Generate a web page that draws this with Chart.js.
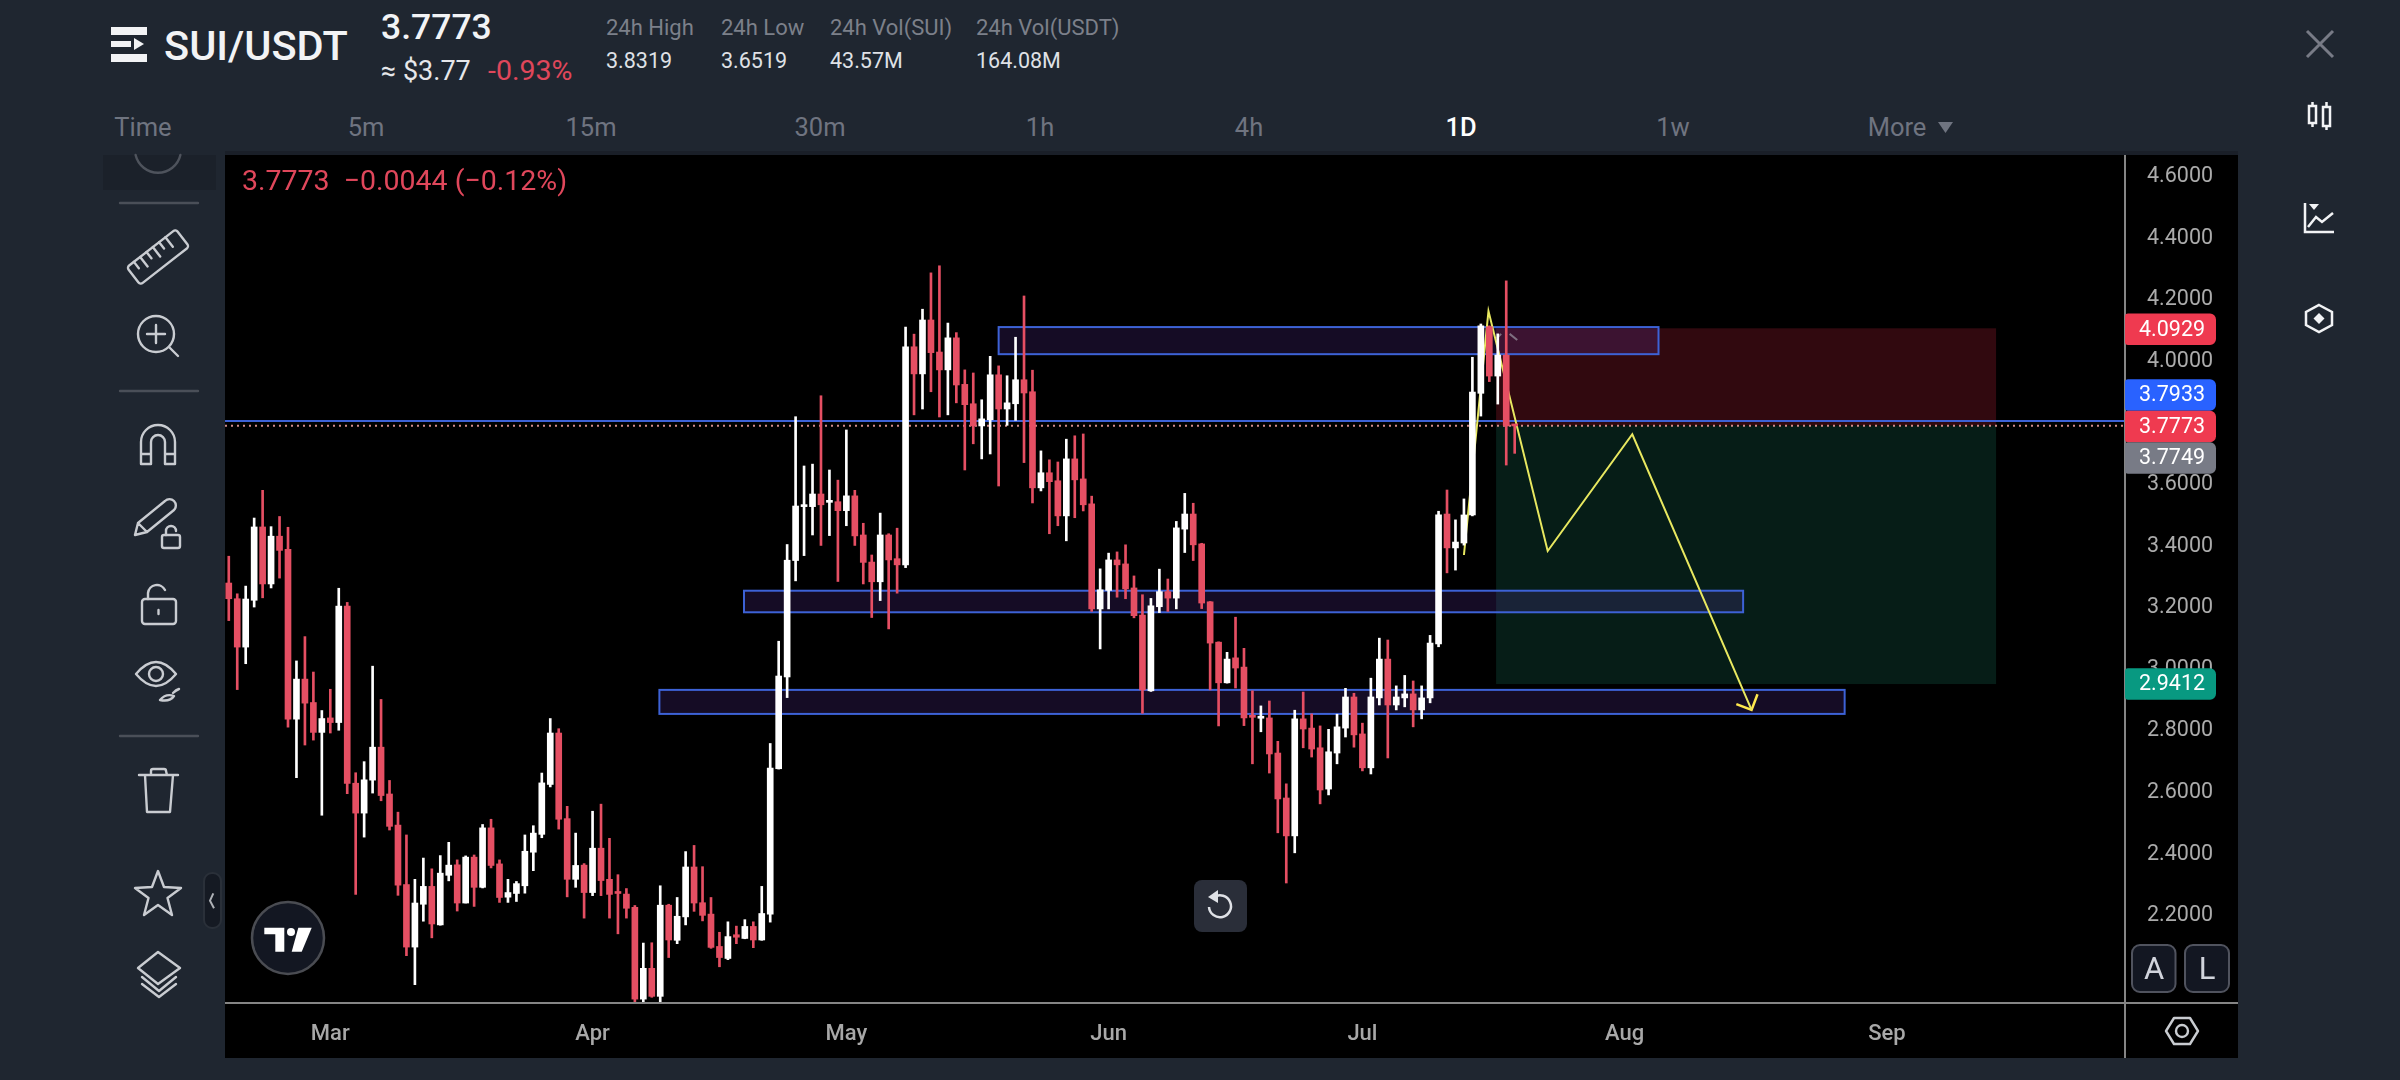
<!DOCTYPE html>
<html>
<head>
<meta charset="UTF-8">
<title>SUI/USDT</title>
<script src="https://cdn.jsdelivr.net/npm/chart.js"></script>
<style>
    html, body { margin: 0; width: 2400px; height: 1080px; background: #1f2630; overflow: hidden; font-family: Roboto, sans-serif; }
    .t { position: absolute; white-space: nowrap; line-height: 1; }
    .head { font-size: 22px; color: #7c808a; top: 17px; }
    .val { font-size: 21.5px; color: #dfe1e6; top: 50px; }
    .tab { font-size: 25.5px; color: #6f7480; top: 115px; transform: translateX(-50%); }
    #wrap { position: absolute; left: 225px; top: 155px; width: 2013px; height: 903px; background: #000; }
    #band { position: absolute; left: 225px; top: 151px; width: 2013px; height: 4px; background: #1a1f28; }
    svg { position: absolute; left: 0; top: 0; }
    .ic { fill: none; stroke: #c9ccd1; stroke-width: 2.4; stroke-linejoin: round; stroke-linecap: round; }
</style>
</head>
<body>
<!-- barra superior -->
<div class="t" style="left:164px;top:25px;font-size:41.500px;font-weight:500;color:#f2f3f5">SUI/USDT</div>
<div class="t" style="left:381px;top:10px;font-size:35.500px;font-weight:500;color:#f2f3f5">3.7773</div>
<div class="t" style="left:381px;top:58px;font-size:27px;color:#e6e7ea">≈ $3.77</div>
<div class="t" style="left:488px;top:57px;font-size:28.500px;color:#e0475b">-0.93%</div>
<div class="t head" style="left:606px">24h High</div>
<div class="t head" style="left:721px">24h Low</div>
<div class="t head" style="left:830px">24h Vol(SUI)</div>
<div class="t head" style="left:976px">24h Vol(USDT)</div>
<div class="t val" style="left:606px">3.8319</div>
<div class="t val" style="left:721px">3.6519</div>
<div class="t val" style="left:830px">43.57M</div>
<div class="t val" style="left:976px">164.08M</div>

<div class="t tab" style="left:143px">Time</div>
<div class="t tab" style="left:366px">5m</div>
<div class="t tab" style="left:591px">15m</div>
<div class="t tab" style="left:820px">30m</div>
<div class="t tab" style="left:1040px">1h</div>
<div class="t tab" style="left:1249px">4h</div>
<div class="t tab" style="left:1461px;color:#fff;font-weight:500">1D</div>
<div class="t tab" style="left:1673px">1w</div>
<div class="t tab" style="left:1897px">More</div>

<div id="band"></div>
<div id="wrap"><canvas id="priceChart" width="2013" height="903"></canvas></div>

<div class="t" style="left:242px;top:167px;font-size:28.500px;color:#e0475b">3.7773&nbsp; −0.0044 (−0.12%)</div>

<svg width="2400" height="1080">
    <!-- menu -->
    <rect x="111" y="27" width="36" height="8" fill="#f2f3f5"/>
    <rect x="111" y="41" width="20" height="6" fill="#f2f3f5"/>
    <path d="M134 38l10 6-10 6z" fill="#f2f3f5"/>
    <rect x="111" y="54" width="36" height="8" fill="#f2f3f5"/>
    <path d="M1938 122h15l-7.500 11z" fill="#6f7480"/>

    <!-- herramientas -->
    <rect x="103" y="155" width="113" height="35" fill="#1b212a"/>
    <path class="ic" d="M135.600 155a23 23 0 0 0 44.800 0" style="stroke:#4e535c"/>
    <path class="ic" d="M120 203h78M120 391h78M120 736h78" style="stroke:#4a4f58"/>
    <g class="ic" transform="translate(158 257) rotate(-38)">
        <rect x="-31" y="-11" width="62" height="22" rx="3"/>
        <path d="M-22 -11v8M-14 -11v12M-6 -11v8M2 -11v12M10 -11v8M18 -11v12"/>
    </g>
    <g class="ic">
        <circle cx="156" cy="334" r="18"/>
        <path d="M147 334h18M156 325v18M169 347l9 9"/>
    </g>
    <path class="ic" d="M141 464V442a17 17 0 0 1 34 0V464H165V442a7 7 0 0 0 -14 0V464ZM141 454h10M165 454h10"/>
    <g class="ic">
        <path d="M135 535l3-12 27-22a6 6 0 0 1 9 9l-27 22zM135 535l12-3M138 523l9 9"/>
        <rect x="162" y="535" width="18" height="13" rx="2"/>
        <path d="M166 535v-4a5 5 0 0 1 10 0"/>
    </g>
    <g class="ic">
        <rect x="142" y="599" width="34" height="25" rx="3"/>
        <path d="M148 599v-6a9 9 0 0 1 17-3"/>
        <path d="M158.500 610v4"/>
    </g>
    <g class="ic">
        <path d="M136 674q20-24 40 0q-20 24-40 0z"/>
        <circle cx="156" cy="674" r="7"/>
        <path d="M160 700q6-7 14-4q-4 6-14 4zM173 693q3-3 6-4"/>
    </g>
    <path class="ic" d="M139 775h39M145 775l2 37h23l3-37M151 775v-4q0-2 2-2h11q2 0 2 2l1 4"/>
    <path class="ic" d="M158 871L164 887 181 888 167.500 898 172 915 158 905 144 915 148.500 898 135 888 152 887Z"/>
    <path class="ic" d="M158 952L180 968 158 984 138 968ZM142 977l17 14 17-14M142 984l17 13 17-13"/>
    <rect x="204" y="873" width="17" height="55" rx="8" fill="#151a23" stroke="#2a3039" stroke-width="2"/>
    <path d="M213.300 893.300L210 900.700 214 908.300" fill="none" stroke="#aeb1b6" stroke-width="2"/>

    <!-- logo -->
    <circle cx="288" cy="938" r="36" fill="#131722" stroke="#4a4c52" stroke-width="2.500"/>
    <path d="M264.300 927.700h20v24h-9v-17.400h-11z" fill="#fff"/>
    <circle cx="291" cy="932" r="4" fill="#fff"/>
    <path d="M298.300 927.700h13.400l-10 24h-10z" fill="#fff"/>

    <!-- volver -->
    <rect x="1194" y="880" width="53" height="52" rx="8" fill="#2a2e39"/>
    <path d="M1214 897a11 11 0 1 1 -5 10" fill="none" stroke="#dfe1e6" stroke-width="2.500"/>
    <path d="M1218 890v13l-10-6z" fill="#dfe1e6"/>

    <!-- A L -->
    <rect x="2132" y="945" width="43.500" height="47" rx="8" fill="#131722" stroke="#50535e" stroke-width="2"/>
    <rect x="2185" y="945" width="44" height="47" rx="8" fill="#131722" stroke="#50535e" stroke-width="2"/>
    <text x="2154" y="979" text-anchor="middle" font-size="31" fill="#d1d4dc">A</text>
    <text x="2207" y="979" text-anchor="middle" font-size="31" fill="#d1d4dc">L</text>
    <path class="ic" d="M2166 1031l8-13h16l8 13-8 13h-16z"/>
    <circle class="ic" cx="2182" cy="1031" r="6"/>

    <!-- derecha -->
    <path d="M2307 31l26 26M2333 31l-26 26" stroke="#787b86" stroke-width="3" fill="none"/>
    <g fill="none" stroke="#f2f3f5" stroke-width="2.500">
        <rect x="2309" y="106" width="7" height="17"/>
        <path d="M2312.500 102v4M2312.500 123v4"/>
        <rect x="2323" y="107" width="7" height="19"/>
        <path d="M2326.500 102v5M2326.500 126v4"/>
        <path d="M2305 203v29h29M2308 227l8-10 6 5 11-9"/>
        <path d="M2319 305l13 7v13l-13 7-13-7v-13z"/>
    </g>
    <path d="M2309 204h10l-5 6z" fill="#f2f3f5"/>
    <path d="M2319 313l5.500 5.500-5.500 5.500-5.500-5.500z" fill="#f2f3f5"/>
</svg>

<script>
    // velas diarias, la primera es el 17 feb. dias contados desde el 1 mar
    const firstDay = -12;
    const opens = [3.272,3.221,3.064,3.216,3.454,3.269,3.424,3.381,2.830,2.960,
        2.884,2.787,2.834,2.819,3.197,2.622,2.525,2.632,2.739,2.587,
        2.486,2.293,2.090,2.229,2.287,2.162,2.323,2.357,2.233,2.382,
        2.284,2.477,2.360,2.252,2.264,2.289,2.398,2.456,2.618,2.785,
        2.507,2.310,2.356,2.267,2.411,2.310,2.267,2.262,2.219,1.921,
        2.021,1.930,2.226,2.112,2.188,2.350,2.234,2.197,2.092,2.053,
        2.130,2.118,2.157,2.113,2.197,2.669,2.967,3.345,3.520,3.520,
        3.561,3.534,3.536,3.507,3.555,3.428,3.340,3.276,3.428,3.351,
        3.331,4.039,3.951,4.126,4.022,3.964,4.068,3.917,3.854,3.782,
        3.802,3.948,3.837,3.854,3.932,3.893,3.581,3.630,3.604,3.490,
        3.675,3.610,3.529,3.188,3.248,3.347,3.334,3.256,3.168,2.922,
        3.195,3.244,3.223,3.447,3.496,3.399,3.211,3.080,2.948,3.029,
        2.999,2.840,2.833,2.834,2.720,2.574,2.451,2.831,2.801,2.737,
        2.603,2.720,2.801,2.902,2.782,2.672,2.899,3.025,2.876,2.899,
        2.912,2.860,2.899,3.074,3.496,3.386,3.402,3.493,3.888,4.104,
        3.944,4.012,3.785];
    const highs = [3.359,3.237,3.262,3.483,3.573,3.455,3.488,3.453,3.019,3.098,
        2.983,2.858,2.927,3.255,3.209,2.656,2.692,3.002,2.894,2.631,
        2.528,2.454,2.310,2.379,2.344,2.387,2.430,2.373,2.386,2.389,
        2.488,2.505,2.373,2.310,2.303,2.454,2.484,2.655,2.832,2.799,
        2.547,2.460,2.361,2.531,2.554,2.443,2.325,2.280,2.225,2.103,
        2.104,2.289,2.229,2.251,2.400,2.420,2.351,2.251,2.138,2.172,
        2.158,2.179,2.172,2.287,2.751,3.083,3.397,3.812,3.652,3.658,
        3.880,3.639,3.606,3.769,3.573,3.466,3.363,3.499,3.432,3.450,
        4.103,4.080,4.161,4.279,4.302,4.116,4.085,3.964,3.954,3.867,
        4.008,3.977,3.945,4.070,4.204,3.963,3.701,3.672,3.665,3.739,
        3.750,3.756,3.554,3.318,3.369,3.373,3.396,3.295,3.234,3.222,
        3.317,3.285,3.472,3.563,3.531,3.401,3.212,3.081,3.047,3.161,
        3.060,2.922,2.873,2.889,2.758,2.620,2.859,2.918,2.847,2.808,
        2.797,2.846,2.930,2.914,2.817,2.963,3.093,3.087,2.938,2.972,
        2.954,2.938,3.102,3.505,3.574,3.477,3.545,4.005,4.113,4.107,
        4.081,4.253,3.786];
    const lows = [3.150,2.926,3.010,3.194,3.224,3.256,3.288,2.804,2.640,2.746,
        2.762,2.518,2.785,2.794,2.588,2.261,2.447,2.590,2.565,2.470,
        2.258,2.062,1.968,2.174,2.120,2.161,2.305,2.207,2.233,2.222,
        2.282,2.347,2.235,2.235,2.238,2.265,2.338,2.445,2.610,2.473,
        2.253,2.284,2.184,2.257,2.257,2.184,2.133,2.184,1.912,1.912,
        1.927,1.912,2.056,2.101,2.162,2.206,2.175,2.086,2.026,2.049,
        2.101,2.117,2.088,2.112,2.171,2.668,2.900,3.279,3.361,3.428,
        3.394,3.426,3.277,3.458,3.394,3.269,3.160,3.215,3.123,3.239,
        3.322,3.818,3.837,3.893,3.811,3.818,3.857,3.639,3.724,3.675,
        3.691,3.587,3.784,3.800,3.663,3.532,3.571,3.432,3.458,3.409,
        3.484,3.506,3.180,3.058,3.188,3.226,3.221,3.159,2.849,2.920,
        3.176,3.180,3.188,3.371,3.345,3.189,2.925,2.808,2.947,2.931,
        2.809,2.685,2.789,2.655,2.461,2.298,2.396,2.737,2.707,2.555,
        2.584,2.685,2.772,2.739,2.662,2.652,2.876,2.704,2.860,2.870,
        2.805,2.831,2.883,3.065,3.305,3.314,3.395,3.490,3.814,3.926,
        3.853,3.655,3.693];
    const closes = [3.221,3.064,3.220,3.454,3.269,3.424,3.378,2.830,2.960,2.882,
        2.787,2.832,2.819,3.197,2.621,2.525,2.633,2.739,2.582,2.482,
        2.291,2.090,2.233,2.287,2.165,2.330,2.356,2.233,2.382,2.284,
        2.477,2.355,2.251,2.267,2.296,2.401,2.460,2.623,2.785,2.505,
        2.310,2.355,2.267,2.411,2.306,2.261,2.264,2.216,1.921,2.021,
        1.930,2.226,2.113,2.190,2.350,2.233,2.193,2.089,2.056,2.124,
        2.122,2.157,2.113,2.199,2.671,2.970,3.346,3.522,3.524,3.561,
        3.526,3.537,3.507,3.555,3.425,3.339,3.276,3.428,3.347,3.331,
        4.039,3.951,4.126,4.020,3.964,4.068,3.915,3.851,3.782,3.805,
        3.948,3.837,3.857,3.932,3.889,3.581,3.630,3.601,3.490,3.675,
        3.607,3.526,3.188,3.250,3.347,3.331,3.253,3.166,2.925,3.198,
        3.244,3.223,3.451,3.496,3.396,3.207,3.077,2.948,3.025,2.996,
        2.834,2.836,2.836,2.717,2.571,2.451,2.831,2.798,2.733,2.600,
        2.724,2.805,2.902,2.779,2.672,2.902,3.025,2.876,2.902,2.912,
        2.860,2.899,3.077,3.493,3.386,3.405,3.493,3.892,4.107,3.944,
        4.012,3.782,3.782];

    const monthDays = [0, 31, 61, 92, 122, 153, 184];
    const monthLabels = ['Mar', 'Apr', 'May', 'Jun', 'Jul', 'Aug', 'Sep'];
    const priceTicks = [2.2, 2.4, 2.6, 2.8, 3.0, 3.2, 3.4, 3.6, 3.8, 4.0, 4.2, 4.4, 4.6];

    // rectangulos azules
    const zoneStarts = [79, 48.9, 38.9];
    const zoneEnds = [157, 167, 179];
    const zoneTops = [4.103, 3.247, 2.925];
    const zoneBottoms = [4.015, 3.177, 2.847];

    // posicion corta
    const shortStart = 137.8;
    const shortEnd = 196.9;
    const stopPrice = 4.099;
    const entryPrice = 3.783;
    const targetPrice = 2.944;

    // lineas horizontales
    const bluePrice = 3.798;
    const lastPrice = 3.783;

    // dibujo amarillo
    const pathDays = [134.0, 136.9, 143.9, 153.9, 168.0];
    const pathPrices = [3.363, 4.155, 3.376, 3.755, 2.860];
    const arrowDays = [166.2, 168.0, 168.7];
    const arrowPrices = [2.879, 2.860, 2.911];
    const markDays = [137.9, 138.4, null, 139.4, 140.3];
    const markPrices = [4.067, 4.081, null, 4.081, 4.061];

    // etiquetas del eje de precios
    const tagValues = [4.0929, 3.7933, 3.7773, 3.7749, 2.9412];
    const tagColors = ['#ef3a50', '#2962ff', '#ef3a50', '#787b86', '#089981'];
    const currentTag = 2;

    const UP = '#ffffff';
    const DOWN = '#e54f63';
    const candleColors = closes.map((c, i) => c >= opens[i] ? UP : DOWN);
    const wicks = highs.map((h, i) => ({ x: firstDay + i, y: [lows[i], h] }));
    const bodies = opens.map((o, i) => ({ x: firstDay + i, y: [o, closes[i]] }));
    const toPoints = (xs, ys) => xs.map((x, i) => ({ x: x, y: ys[i] }));

    // fondo: zonas y lineas, por debajo de las velas
    const drawingsPlugin = {
        id: 'drawings',
        beforeDatasetsDraw(chart) {
            const { ctx, chartArea, scales: { x, y } } = chart;
            ctx.save();
            ctx.fillStyle = '#31090f';
            ctx.fillRect(x.getPixelForValue(shortStart), y.getPixelForValue(stopPrice),
                x.getPixelForValue(shortEnd) - x.getPixelForValue(shortStart),
                y.getPixelForValue(entryPrice) - y.getPixelForValue(stopPrice));
            ctx.fillStyle = '#061d17';
            ctx.fillRect(x.getPixelForValue(shortStart), y.getPixelForValue(entryPrice),
                x.getPixelForValue(shortEnd) - x.getPixelForValue(shortStart),
                y.getPixelForValue(targetPrice) - y.getPixelForValue(entryPrice));

            zoneStarts.forEach((s, i) => {
                const left = x.getPixelForValue(s);
                const top = y.getPixelForValue(zoneTops[i]);
                const w = x.getPixelForValue(zoneEnds[i]) - left;
                const h = y.getPixelForValue(zoneBottoms[i]) - top;
                ctx.fillStyle = 'rgba(103,58,183,0.2)';
                ctx.fillRect(left, top, w, h);
                ctx.strokeStyle = '#3d62d6';
                ctx.lineWidth = 2;
                ctx.strokeRect(left, top, w, h);
            });

            ctx.strokeStyle = '#3d62d6';
            ctx.lineWidth = 2;
            ctx.beginPath();
            ctx.moveTo(chartArea.left, y.getPixelForValue(bluePrice));
            ctx.lineTo(chartArea.right, y.getPixelForValue(bluePrice));
            ctx.stroke();

            ctx.strokeStyle = '#d08a8a';
            ctx.setLineDash([2, 4]);
            ctx.beginPath();
            ctx.moveTo(chartArea.left, y.getPixelForValue(lastPrice));
            ctx.lineTo(chartArea.right, y.getPixelForValue(lastPrice));
            ctx.stroke();
            ctx.restore();
        },
        afterDraw(chart) {
            const { ctx, chartArea, width, height, scales: { y } } = chart;
            ctx.save();
            // ejes
            ctx.strokeStyle = '#858585';
            ctx.lineWidth = 2;
            ctx.beginPath();
            ctx.moveTo(chartArea.right, 0);
            ctx.lineTo(chartArea.right, height);
            ctx.moveTo(0, chartArea.bottom);
            ctx.lineTo(width, chartArea.bottom);
            ctx.stroke();

            // las etiquetas se apilan alrededor del precio actual
            const tagH = 31.5;
            const tagY = tagValues.map(v => y.getPixelForValue(v) - 1);
            for (let i = currentTag - 1; i >= 0; i--) {
                if (tagY[i] > tagY[i + 1] - tagH) tagY[i] = tagY[i + 1] - tagH;
            }
            for (let i = currentTag + 1; i < tagY.length; i++) {
                if (tagY[i] < tagY[i - 1] + tagH) tagY[i] = tagY[i - 1] + tagH;
            }
            ctx.font = '21.5px Roboto';
            ctx.textBaseline = 'middle';
            tagValues.forEach((v, i) => {
                ctx.fillStyle = tagColors[i];
                ctx.beginPath();
                ctx.roundRect(chartArea.right, tagY[i] - tagH / 2, 91, tagH, [3, 6, 6, 3]);
                ctx.fill();
                ctx.fillStyle = '#fff';
                ctx.fillText(v.toFixed(4), chartArea.right + 14, tagY[i] + 1);
            });
            ctx.restore();
        }
    };

    new Chart(document.getElementById('priceChart'), {
        type: 'bar',
        data: {
            datasets: [
                { data: bodies, backgroundColor: candleColors, barThickness: 6, minBarLength: 2, order: 1 },
                { data: wicks, backgroundColor: candleColors, barThickness: 2, order: 2 },
                { type: 'line', data: toPoints(pathDays, pathPrices), borderColor: '#e8e860', borderWidth: 2, pointRadius: 0, order: 5 },
                { type: 'line', data: toPoints(arrowDays, arrowPrices), borderColor: '#ffe84d', borderWidth: 2.5, pointRadius: 0, order: 5 },
                { type: 'line', data: toPoints(markDays, markPrices), borderColor: '#7f6f80', borderWidth: 2, pointRadius: 0, order: 5 }
            ]
        },
        options: {
            responsive: false,
            animation: false,
            devicePixelRatio: 1,
            layout: { padding: 0 },
            datasets: { bar: { grouped: false, borderWidth: 0 } },
            plugins: { legend: { display: false }, tooltip: { enabled: false } },
            scales: {
                x: {
                    type: 'linear',
                    offset: false,
                    min: -12.447,
                    max: 212.14,
                    grid: { display: false },
                    border: { display: false },
                    afterBuildTicks: axis => { axis.ticks = monthDays.map(v => ({ value: v })); },
                    afterFit: axis => { axis.height = 55; axis.paddingLeft = 0; axis.paddingRight = 0; },
                    ticks: {
                        color: '#a8a8a8',
                        font: { family: 'Roboto', size: 22, weight: '500' },
                        padding: 10,
                        maxRotation: 0,
                        autoSkip: false,
                        callback: (v, i) => monthLabels[i]
                    }
                },
                y: {
                    position: 'right',
                    min: 1.9084,
                    max: 4.6617,
                    grid: { display: false },
                    border: { display: false },
                    afterBuildTicks: axis => { axis.ticks = priceTicks.map(v => ({ value: v })); },
                    afterFit: axis => { axis.width = 113; axis.paddingTop = 0; axis.paddingBottom = 0; },
                    ticks: {
                        color: '#ababab',
                        // linea vacia delante para bajar el texto unos px
                        font: { family: 'Roboto', size: 21.5, lineHeight: 0.25 },
                        padding: 14,
                        autoSkip: false,
                        callback: v => ['', v.toFixed(4)]
                    }
                }
            }
        },
        plugins: [drawingsPlugin]
    });
</script>
</body>
</html>
